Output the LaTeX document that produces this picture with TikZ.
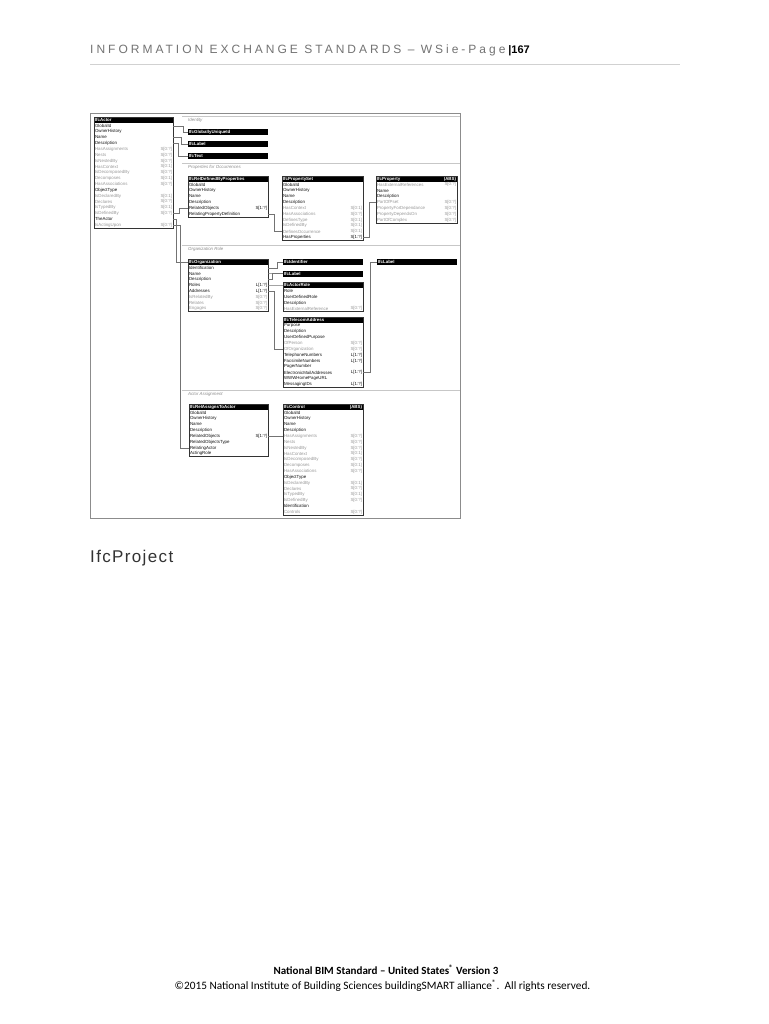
\documentclass[tikz,border=0pt]{standalone}
\usepackage{fontspec}
\setmainfont{Liberation Sans}
\newfontfamily\dfont{Liberation Sans}
\newfontfamily\hfont[LetterSpace=25]{Liberation Sans}
\newfontfamily\pfont[LetterSpace=8]{Liberation Sans}
\newfontfamily\ffont{Carlito}
\colorlet{ak}{black!92}
\colorlet{ag}{black!40}
\def\rh{5.85}
\tikzset{
  attr/.style={font=\dfont\fontsize{4.4}{5}\selectfont, inner sep=0pt},
  hdr/.style={font=\dfont\bfseries\fontsize{4.4}{5}\selectfont, text=white, inner sep=0pt},
  boxline/.style={draw=black!80, line width=0.5pt},
  conn/.style={draw=black!55, line width=0.45pt},
  frame/.style={draw=black!45, line width=0.6pt},
  secline/.style={draw=black!22, line width=0.5pt},
  seclabel/.style={font=\dfont\itshape\fontsize{4.4}{5}\selectfont, text=black!45, inner sep=0pt, anchor=west},
}
% entity box: name, x, y, width, title, title right, rows
\newcommand\ebox[7]{%
  \fill[black] (#2,#3) rectangle ++(#4,\rh);
  \coordinate (#1-0-l) at (#2,#3+0.5*\rh);
  \coordinate (#1-0-r) at (#2+#4,#3+0.5*\rh);
  \node[hdr,anchor=west] (#1-t) at (#2+0.8,#3+0.5*\rh) {#5};
  \node[hdr,anchor=east] (#1-tr) at (#2+#4-0.8,#3+0.5*\rh) {#6};
  \foreach \t/\m/\c [count=\i] in {#7} {
    \node[attr,text=\c,anchor=west] (#1-\i) at (#2+0.8,#3+\i*\rh+0.5*\rh) {\t};
    \node[attr,text=\c,anchor=east] (#1-\i-m) at (#2+#4-0.8,#3+\i*\rh+0.5*\rh) {\m};
    \coordinate (#1-\i-l) at (#2,#3+\i*\rh+0.5*\rh);
    \coordinate (#1-\i-r) at (#2+#4,#3+\i*\rh+0.5*\rh);
    \xdef\nrows{\i}
  }
  \draw[boxline] (#2,#3) rectangle (#2+#4,#3+\nrows*\rh+\rh);
}
% type bar: name, x, y, width, title
\newcommand\ebar[5]{%
  \fill[black] (#2,#3) rectangle ++(#4,\rh);
  \coordinate (#1-0-l) at (#2,#3+0.5*\rh);
  \coordinate (#1-0-r) at (#2+#4,#3+0.5*\rh);
  \node[hdr,anchor=west] (#1-t) at (#2+0.8,#3+0.5*\rh) {#5};
}
\begin{document}
\begin{tikzpicture}[x=1pt,y=-1pt]
\useasboundingbox (0,0) rectangle (768,1024);
\fill[white] (0,0) rectangle (768,1024);

% page header
\node[anchor=base west, text=black!55, font=\hfont\fontsize{12}{14}\selectfont, inner sep=0pt] (hdrtext) at (90,53.5) {INFORMATION EXCHANGE STANDARDS – WSie-Page};
\node[anchor=base west, text=black, font=\dfont\bfseries\fontsize{11}{13}\selectfont, inner sep=0pt] (pgnum) at ([xshift=2.5pt]hdrtext.base east) {|167};
\draw[draw=black!18, line width=0.8pt] (90,64) -- (680,64);

% diagram frame and sections
\draw[frame] (90,113) rectangle (460,518);
\draw[secline] (182,116.5) -- (460,116.5);
\draw[secline] (182,163) -- (460,163);
\draw[secline] (182,245) -- (460,245);
\draw[secline] (182,390) -- (460,390);
\node[seclabel] (s1) at (188,120.8) {Identity};
\node[seclabel] (s2) at (188,167.3) {Properties for Occurrences};
\node[seclabel] (s3) at (188,249.5) {Organization Role};
\node[seclabel] (s4) at (188,394.5) {Actor Assignment};

% entities
\ebox{actor}{94}{117}{79}{IfcActor}{}{GlobalId//ak, OwnerHistory//ak, Name//ak, Description//ak,
  HasAssignments/S[0:?]/ag, Nests/S[0:?]/ag, IsNestedBy/S[0:?]/ag, HasContext/S[0:1]/ag,
  IsDecomposedBy/S[0:?]/ag, Decomposes/S[0:1]/ag, HasAssociations/S[0:?]/ag, ObjectType//ak,
  IsDeclaredBy/S[0:1]/ag, Declares/S[0:?]/ag, IsTypedBy/S[0:1]/ag, IsDefinedBy/S[0:?]/ag,
  TheActor//ak, IsActingUpon/S[0:?]/ag}

\ebar{guid}{188}{129.5}{80}{IfcGloballyUniqueId}
\ebar{lab1}{188}{141.1}{80}{IfcLabel}
\ebar{txt}{188}{153.5}{80}{IfcText}

\ebox{reldef}{188}{176}{80}{IfcRelDefinedByProperties}{}{GlobalId//ak, OwnerHistory//ak, Name//ak,
  Description//ak, RelatedObjects/S[1:?]/ak, RelatingPropertyDefinition//ak}

\ebox{pset}{282}{176}{81}{IfcPropertySet}{}{GlobalId//ak, OwnerHistory//ak, Name//ak, Description//ak,
  HasContext/S[0:1]/ag, HasAssociations/S[0:?]/ag, DefinesType/S[0:1]/ag, IsDefinedBy/S[0:1]/ag,
  DefinesOccurrence/S[0:1]/ag, HasProperties/S[1:?]/ak}

\ebox{prop}{376}{176}{81}{IfcProperty}{(ABS)}{HasExternalReferences/S[0:?]/ag, Name//ak, Description//ak,
  PartOfPset/S[0:?]/ag, PropertyForDependance/S[0:?]/ag, PropertyDependsOn/S[0:?]/ag,
  PartOfComplex/S[0:?]/ag}

\ebox{org}{188}{259}{80}{IfcOrganization}{}{Identification//ak, Name//ak, Description//ak,
  Roles/L[1:?]/ak, Addresses/L[1:?]/ak, IsRelatedBy/S[0:?]/ag, Relates/S[0:?]/ag, Engages/S[0:?]/ag}

\ebar{ident}{283}{259}{80}{IfcIdentifier}
\ebar{lab2}{283}{270.7}{80}{IfcLabel}
\ebar{lab3}{377}{259}{80}{IfcLabel}

\ebox{arole}{283}{282.4}{80}{IfcActorRole}{}{Role//ak, UserDefinedRole//ak, Description//ak,
  HasExternalReference/S[0:?]/ag}

\ebox{tele}{283}{317}{80}{IfcTelecomAddress}{}{Purpose//ak, Description//ak, UserDefinedPurpose//ak,
  OfPerson/S[0:?]/ag, OfOrganization/S[0:?]/ag, TelephoneNumbers/L[1:?]/ak,
  FacsimileNumbers/L[1:?]/ak, PagerNumber//ak, ElectronicMailAddresses/L[1:?]/ak,
  WWWHomePageURL//ak, MessagingIDs/L[1:?]/ak}

\ebox{rassign}{189}{404}{79}{IfcRelAssignsToActor}{}{GlobalId//ak, OwnerHistory//ak, Name//ak,
  Description//ak, RelatedObjects/S[1:?]/ak, RelatedObjectsType//ak, RelatingActor//ak, ActingRole//ak}

\ebox{control}{283}{404}{80}{IfcControl}{(ABS)}{GlobalId//ak, OwnerHistory//ak, Name//ak, Description//ak,
  HasAssignments/S[0:?]/ag, Nests/S[0:?]/ag, IsNestedBy/S[0:?]/ag, HasContext/S[0:1]/ag,
  IsDecomposedBy/S[0:?]/ag, Decomposes/S[0:1]/ag, HasAssociations/S[0:?]/ag, ObjectType//ak,
  IsDeclaredBy/S[0:1]/ag, Declares/S[0:?]/ag, IsTypedBy/S[0:1]/ag, IsDefinedBy/S[0:?]/ag,
  Identification//ak, Controls/S[0:?]/ag}

% connectors
\draw[conn] (actor-1-r) -- ++(10,0) |- (guid-0-l);
\draw[conn] (actor-3-r) -- ++(8,0) |- (lab1-0-l);
\draw[conn] (actor-4-r) -- ++(5.5,0) |- (txt-0-l);
\draw[conn] (actor-16-r) -- ++(6.5,0) |- (reldef-5-l);
\draw[conn] (actor-17-r) -- ++(3,0) |- (org-0-l);
\draw[conn] (actor-18-r) -- ++(7,0) |- (rassign-7-l);
\draw[conn] (reldef-6-r) -- ++(6,0) |- (pset-9-l);
\draw[conn] (pset-10-r) -- ++(6,0) |- (prop-4-l);
\draw[conn] (org-1-r) -- ++(9,0) |- (ident-0-l);
\draw[conn] (org-2-r) -- (lab2-0-l);
\draw[conn] (org-3-r) -- ++(4,0) |- (lab2-0-l);
\draw[conn] (org-4-r) -- (arole-0-l);
\draw[conn] (org-5-r) -- ++(6,0) |- (tele-5-l);
\draw[conn] (tele-9-r) -- ++(7,0) |- (lab3-0-l);
\draw[conn] (rassign-5-r) -- (control-5-l);

% section heading
\node[anchor=base west, text=black!80, font=\pfont\fontsize{17}{20}\selectfont, inner sep=0pt] (proj) at (90,562) {IfcProject};

% footer
\node[anchor=base, font=\ffont\bfseries\fontsize{11}{13}\selectfont, inner sep=0pt] (foot1) at (386,974) {National BIM Standard – United States\textsuperscript{®} Version 3};
\node[anchor=base, font=\ffont\fontsize{11.3}{13}\selectfont, inner sep=0pt] (foot2) at (382.5,989) {©2015 National Institute of Building Sciences buildingSMART alliance\textsuperscript{®}.\ \ All rights reserved.};
\end{tikzpicture}
\end{document}
